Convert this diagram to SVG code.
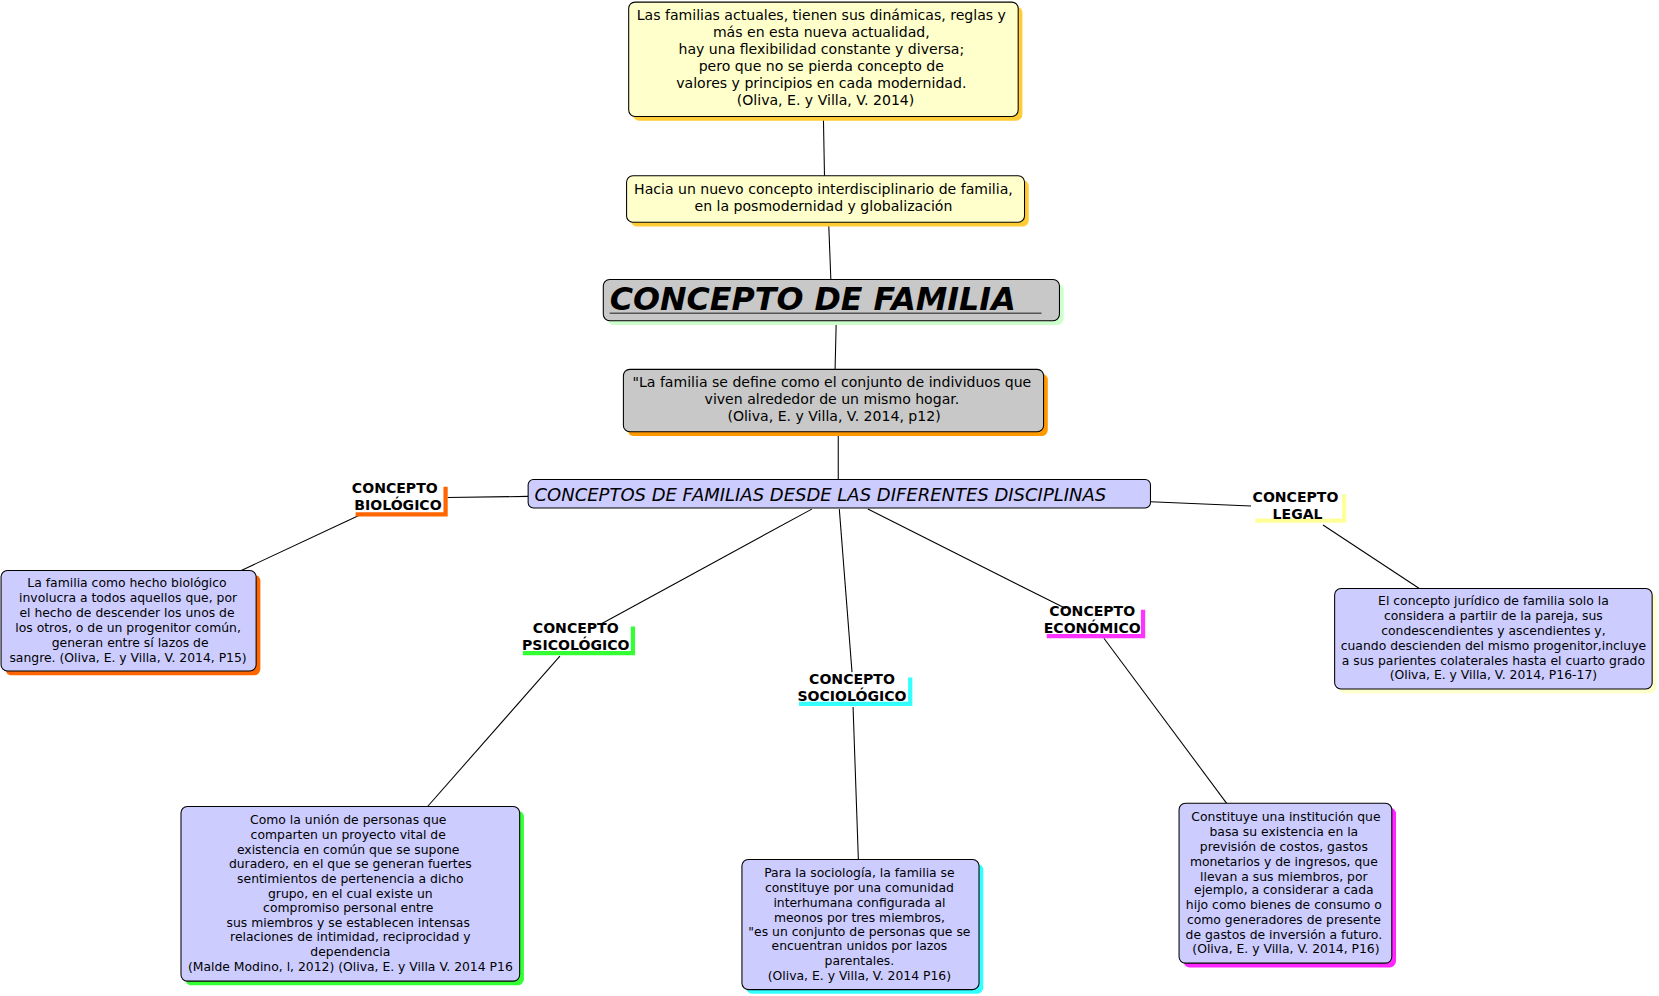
<svg xmlns="http://www.w3.org/2000/svg" width="1659" height="996" viewBox="0 0 1659 996">
<style>
text{font-family:"DejaVu Sans",Verdana,sans-serif;fill:#000}
.b{stroke:#000;stroke-width:1}
.t13{font-size:13.3px;text-anchor:middle}
.t12{font-size:11.7px;text-anchor:middle}
.lbl{font-size:13.3px;font-weight:bold;text-anchor:middle}
.c line{stroke:#000;stroke-width:1}
.sh{fill:none;stroke-width:4}
</style>
<rect width="1659" height="996" fill="#fff"/>
<g transform="scale(1.0584)">
<g class="c">
<line x1="778" y1="112" x2="779" y2="166"/>
<line x1="783" y1="212" x2="785" y2="264"/>
<line x1="790" y1="307" x2="789" y2="349"/>
<line x1="792" y1="410" x2="792" y2="453"/>
<line x1="499" y1="469" x2="423" y2="470"/>
<line x1="339" y1="487" x2="228" y2="539"/>
<line x1="767" y1="481" x2="567" y2="590"/>
<line x1="529" y1="620" x2="404" y2="762"/>
<line x1="793" y1="481" x2="805" y2="635"/>
<line x1="806" y1="668" x2="811" y2="812"/>
<line x1="820" y1="481" x2="1007" y2="575"/>
<line x1="1043" y1="603" x2="1159" y2="759"/>
<line x1="1087" y1="474" x2="1182" y2="478"/>
<line x1="1250" y1="496" x2="1341" y2="556"/>
</g>
<g id="top">
<rect x="598" y="6" width="368" height="108" rx="6" fill="#ffcc33"/>
<rect x="594" y="2" width="368" height="108" rx="6" fill="#ffffcc" class="b"/>
<text class="t13"><tspan x="776" y="19">Las familias actuales, tienen sus dinámicas, reglas y</tspan><tspan x="776" y="35">más en esta nueva actualidad,</tspan><tspan x="776" y="51">hay una flexibilidad constante y diversa;</tspan><tspan x="776" y="67">pero que no se pierda concepto de</tspan><tspan x="776" y="83">valores y principios en cada modernidad.</tspan><tspan x="780" y="99">(Oliva, E. y Villa, V. 2014)</tspan></text>
</g>
<g id="hacia">
<rect x="596" y="170" width="376" height="44" rx="6" fill="#ffcc33"/>
<rect x="592" y="166" width="376" height="44" rx="6" fill="#ffffcc" class="b"/>
<text class="t13"><tspan x="778" y="183">Hacia un nuevo concepto interdisciplinario de familia,</tspan><tspan x="778" y="199">en la posmodernidad y globalización</tspan></text>
</g>
<g id="main">
<rect x="574" y="268" width="431" height="39" rx="6" fill="#ccffcc"/>
<rect x="570" y="264" width="431" height="39" rx="6" fill="#c8c8c8" class="b"/>
<text x="576" y="293" style="font-size:30px;font-weight:bold;font-style:italic">CONCEPTO DE FAMILIA</text>
<line x1="576" y1="296" x2="984" y2="296" stroke="#555" stroke-width="1.5"/>
</g>
<g id="def">
<rect x="593" y="353" width="397" height="59" rx="6" fill="#ff9900"/>
<rect x="589" y="349" width="397" height="59" rx="6" fill="#c8c8c8" class="b"/>
<text class="t13"><tspan x="786" y="366">"La familia se define como el conjunto de individuos que</tspan><tspan x="786" y="382">viven alrededor de un mismo hogar.</tspan><tspan x="788" y="398">(Oliva, E. y Villa, V. 2014, p12)</tspan></text>
</g>
<g id="disc">
<rect x="499" y="453" width="588" height="27" rx="5" fill="#ccccff" class="b"/>
<text x="505" y="473" style="font-size:17px;font-style:italic">CONCEPTOS DE FAMILIAS DESDE LAS DIFERENTES DISCIPLINAS</text>
</g>
<g id="bio-lbl">
<polyline points="336,486 421,486 421,460" class="sh" stroke="#ff6600"/>
<text class="lbl"><tspan x="373" y="466">CONCEPTO</tspan><tspan x="376" y="482">BIOLÓGICO</tspan></text>
</g>
<g id="bio">
<rect x="5" y="543" width="241" height="95" rx="6" fill="#ff6600"/>
<rect x="1" y="539" width="241" height="95" rx="6" fill="#ccccff" class="b"/>
<text class="t12"><tspan x="120" y="555">La familia como hecho biológico</tspan><tspan x="121" y="569">involucra a todos aquellos que, por</tspan><tspan x="120" y="583">el hecho de descender los unos de</tspan><tspan x="121" y="597">los otros, o de un progenitor común,</tspan><tspan x="123" y="611">generan entre sí lazos de</tspan><tspan x="121" y="625">sangre. (Oliva, E. y Villa, V. 2014, P15)</tspan></text>
</g>
<g id="psi-lbl">
<polyline points="494,617 598,617 598,592" class="sh" stroke="#33ff33"/>
<text class="lbl"><tspan x="544" y="598">CONCEPTO</tspan><tspan x="544" y="614">PSICOLÓGICO</tspan></text>
</g>
<g id="psi">
<rect x="175" y="766" width="320" height="165" rx="6" fill="#33ff33"/>
<rect x="171" y="762" width="320" height="165" rx="6" fill="#ccccff" class="b"/>
<text class="t12"><tspan x="329" y="779">Como la unión de personas que</tspan><tspan x="329" y="793">comparten un proyecto vital de</tspan><tspan x="329" y="807">existencia en común que se supone</tspan><tspan x="331" y="820">duradero, en el que se generan fuertes</tspan><tspan x="331" y="834">sentimientos de pertenencia a dicho</tspan><tspan x="331" y="848">grupo, en el cual existe un</tspan><tspan x="329" y="862">compromiso personal entre</tspan><tspan x="329" y="876">sus miembros y se establecen intensas</tspan><tspan x="331" y="889">relaciones de intimidad, reciprocidad y</tspan><tspan x="331" y="903">dependencia</tspan><tspan x="331" y="917">(Malde Modino, l, 2012) (Oliva, E. y Villa V. 2014 P16</tspan></text>
</g>
<g id="soc-lbl">
<polyline points="755,665 860,665 860,640" class="sh" stroke="#33ffff"/>
<text class="lbl"><tspan x="805" y="646">CONCEPTO</tspan><tspan x="805" y="662">SOCIOLÓGICO</tspan></text>
</g>
<g id="soc">
<rect x="705" y="816" width="224" height="123" rx="6" fill="#33ffff"/>
<rect x="701" y="812" width="224" height="123" rx="6" fill="#ccccff" class="b"/>
<text class="t12"><tspan x="812" y="829">Para la sociología, la familia se</tspan><tspan x="812" y="843">constituye por una comunidad</tspan><tspan x="812" y="857">interhumana configurada al</tspan><tspan x="812" y="871">meonos por tres miembros,</tspan><tspan x="812" y="884">"es un conjunto de personas que se</tspan><tspan x="812" y="898">encuentran unidos por lazos</tspan><tspan x="812" y="912">parentales.</tspan><tspan x="812" y="926">(Oliva, E. y Villa, V. 2014 P16)</tspan></text>
</g>
<g id="eco-lbl">
<polyline points="989,601 1080,601 1080,576" class="sh" stroke="#ff33ff"/>
<text class="lbl"><tspan x="1032" y="582">CONCEPTO</tspan><tspan x="1032" y="598">ECONÓMICO</tspan></text>
</g>
<g id="eco">
<rect x="1118" y="763" width="201" height="151" rx="6" fill="#ff00ff" opacity="0.85"/>
<rect x="1114" y="759" width="201" height="151" rx="6" fill="#ccccff" class="b"/>
<text class="t12"><tspan x="1215" y="776">Constituye una institución que</tspan><tspan x="1213" y="790">basa su existencia en la</tspan><tspan x="1213" y="804">previsión de costos, gastos</tspan><tspan x="1213" y="818">monetarios y de ingresos, que</tspan><tspan x="1213" y="832">llevan a sus miembros, por</tspan><tspan x="1213" y="845">ejemplo, a considerar a cada</tspan><tspan x="1213" y="859">hijo como bienes de consumo o</tspan><tspan x="1213" y="873">como generadores de presente</tspan><tspan x="1213" y="887">de gastos de inversión a futuro.</tspan><tspan x="1215" y="900">(Oliva, E. y Villa, V. 2014, P16)</tspan></text>
</g>
<g id="leg-lbl">
<polyline points="1186,492 1270,492 1270,467" class="sh" stroke="#ffff99"/>
<text class="lbl"><tspan x="1224" y="474">CONCEPTO</tspan><tspan x="1226" y="490">LEGAL</tspan></text>
</g>
<g id="leg">
<rect x="1265" y="560" width="300" height="95" rx="6" fill="#ffffcc"/>
<rect x="1261" y="556" width="300" height="95" rx="6" fill="#ccccff" class="b"/>
<text class="t12"><tspan x="1411" y="572">El concepto jurídico de familia solo la</tspan><tspan x="1411" y="586">considera a partiir de la pareja, sus</tspan><tspan x="1411" y="600">condescendientes y ascendientes y,</tspan><tspan x="1411" y="614">cuando descienden del mismo progenitor,incluye</tspan><tspan x="1411" y="628">a sus parientes colaterales hasta el cuarto grado</tspan><tspan x="1411" y="642">(Oliva, E. y Villa, V. 2014, P16-17)</tspan></text>
</g>
</g>
</svg>
